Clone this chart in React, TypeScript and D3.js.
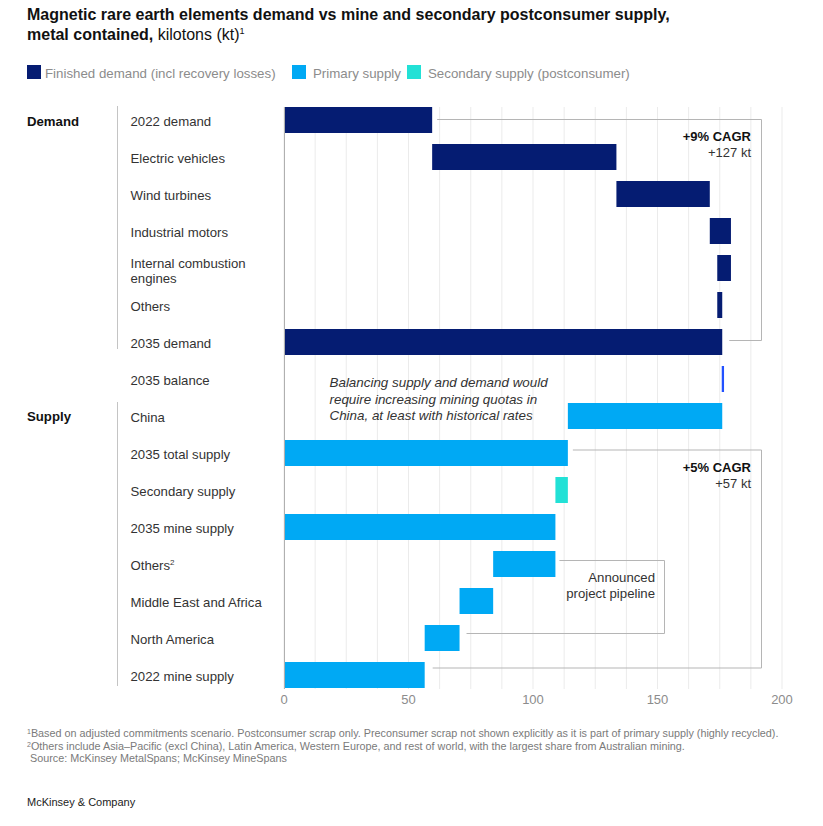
import React from "react";
import * as d3 from "d3";

// Row labels, top to bottom
const rowLabels = [
  "2022 demand",
  "Electric vehicles",
  "Wind turbines",
  "Industrial motors",
  "Internal combustion engines",
  "Others",
  "2035 demand",
  "2035 balance",
  "China",
  "2035 total supply",
  "Secondary supply",
  "2035 mine supply",
  "Others2",
  "Middle East and Africa",
  "North America",
  "2022 mine supply",
];

// Demand waterfall (kt): start, increments, then total
const demandStart = 59.5;
const demandSteps = [
  { label: "Electric vehicles", value: 74 },
  { label: "Wind turbines", value: 37.5 },
  { label: "Industrial motors", value: 8.5 },
  { label: "Internal combustion engines", value: -5.5 },
  { label: "Others", value: 2 },
];

// Supply waterfall (kt), built from the bottom up
const mineSupply2022 = 56.5;
const mineAdditions = [
  { label: "North America", value: 14 },
  { label: "Middle East and Africa", value: 13.5 },
  { label: "Others2", value: 25 },
];
const secondarySupply = 5;
const chinaAddition = 62;

const axisTicks = [0, 50, 100, 150, 200];

const NAVY = "#051c72";
const PRIMARY = "#00a9f4";
const SECONDARY = "#22e1d6";
const BALANCE = "#2251ff";
const FONT = "'Liberation Sans', Arial, sans-serif";

type Bar = { label: string; x0: number; x1: number; color: string };

function buildBars(): Bar[] {
  const bars: Bar[] = [];
  bars.push({ label: "2022 demand", x0: 0, x1: demandStart, color: NAVY });
  let run = demandStart;
  for (const s of demandSteps) {
    const next = run + s.value;
    bars.push({ label: s.label, x0: Math.min(run, next), x1: Math.max(run, next), color: NAVY });
    run = next;
  }
  const demand2035 = run;
  bars.push({ label: "2035 demand", x0: 0, x1: demand2035, color: NAVY });

  bars.push({ label: "2022 mine supply", x0: 0, x1: mineSupply2022, color: PRIMARY });
  let s = mineSupply2022;
  for (const m of mineAdditions) {
    bars.push({ label: m.label, x0: s, x1: s + m.value, color: PRIMARY });
    s += m.value;
  }
  const mine2035 = s;
  bars.push({ label: "2035 mine supply", x0: 0, x1: mine2035, color: PRIMARY });
  bars.push({ label: "Secondary supply", x0: mine2035, x1: mine2035 + secondarySupply, color: SECONDARY });
  const total2035 = mine2035 + secondarySupply;
  bars.push({ label: "2035 total supply", x0: 0, x1: total2035, color: PRIMARY });
  bars.push({ label: "China", x0: total2035, x1: total2035 + chinaAddition, color: PRIMARY });
  return bars;
}

export default function App() {
  const width = 823;
  const height = 826;
  const x = d3.scaleLinear().domain([0, 200]).range([284, 782]);
  const y = d3
    .scaleBand<string>()
    .domain(rowLabels)
    .range([107, 688])
    .paddingInner(11 / 37)
    .paddingOuter(0);
  const bw = y.bandwidth();
  const bars = buildBars();
  const barOf = (l: string) => bars.find((b) => b.label === l)!;
  const top = (l: string) => y(l)!;
  const gridTicks = d3.range(0, 200.01, 12.5);

  const demand2035 = barOf("2035 demand").x1;
  const bracketRight = 761.5;
  const gray = "#b5b5b5";

  const d0 = barOf("2022 demand");
  const d1 = barOf("2035 demand");
  const s0 = barOf("2035 total supply");
  const s1 = barOf("2022 mine supply");
  const p0 = barOf("Others2");
  const p1 = barOf("North America");

  const bracket = (xa: number, ya: number, xr: number, yb: number, xb: number) =>
    `M${xa},${ya}H${xr}V${yb}H${xb}`;

  const labelColor = "#333";
  const labelSize = 13.2;

  return (
    <svg width={width} height={height} style={{ display: "block", position: "absolute", left: 0, top: 0, background: "#fff" }} fontFamily={FONT}>
      {/* Title */}
      <text x={27} y={20} fontSize={16} fontWeight="bold" fill="#111">
        Magnetic rare earth elements demand vs mine and secondary postconsumer supply,
      </text>
      <text x={27} y={40} fontSize={16} fill="#111">
        <tspan fontWeight="bold">metal contained,</tspan>
        <tspan> kilotons (kt)</tspan>
        <tspan fontSize={9} dy={-6}>1</tspan>
      </text>

      {/* Legend */}
      {[
        { c: NAVY, t: "Finished demand (incl recovery losses)", sx: 27, tx: 45 },
        { c: PRIMARY, t: "Primary supply", sx: 292, tx: 313 },
        { c: SECONDARY, t: "Secondary supply (postconsumer)", sx: 407, tx: 428 },
      ].map((d) => (
        <g key={d.t}>
          <rect x={d.sx} y={65} width={14} height={14} fill={d.c} />
          <text x={d.tx} y={78} fontSize={13.3} fill="#8c8c8c">
            {d.t}
          </text>
        </g>
      ))}

      {/* Gridlines */}
      {gridTicks.map((t) => (
        <line key={t} x1={x(t)} x2={x(t)} y1={107} y2={689} stroke="#ebebeb" strokeWidth={1} />
      ))}

      {/* Group labels and separators */}
      <text x={27} y={126} fontSize={13.2} fontWeight="bold" fill="#111">Demand</text>
      <text x={27} y={420.5} fontSize={13.2} fontWeight="bold" fill="#111">Supply</text>
      <line x1={117.5} x2={117.5} y1={106} y2={349} stroke="#c4c4c4" />
      <line x1={117.5} x2={117.5} y1={402} y2={686} stroke="#c4c4c4" />

      {/* Row labels */}
      {rowLabels.map((l) => {
        const cy = top(l) + bw / 2;
        if (l === "Internal combustion engines") {
          return (
            <text key={l} x={130.5} fontSize={labelSize} fill={labelColor}>
              <tspan x={130.5} y={cy - 0.5}>Internal combustion</tspan>
              <tspan x={130.5} y={cy + 14.5}>engines</tspan>
            </text>
          );
        }
        if (l === "Others2") {
          return (
            <text key={l} x={130.5} y={cy + 5.5} fontSize={labelSize} fill={labelColor}>
              Others<tspan fontSize={8} dy={-5}>2</tspan>
            </text>
          );
        }
        return (
          <text key={l} x={130.5} y={cy + 5.5} fontSize={labelSize} fill={labelColor}>
            {l}
          </text>
        );
      })}

      {/* Brackets */}
      <path d={bracket(x(d0.x1) + 5, top("2022 demand") + 12.5, bracketRight, top("2035 demand") + 11.5, x(d1.x1) + 7)} fill="none" stroke={gray} />
      <path d={bracket(x(s0.x1) + 5, top("2035 total supply") + 10, bracketRight, top("2022 mine supply") + 6, x(s1.x1) + 8)} fill="none" stroke={gray} />
      <path d={bracket(x(p0.x1) + 4, top("Others2") + 9.5, 664.5, top("North America") + 8.5, x(p1.x1) + 7)} fill="none" stroke={gray} />

      {/* Bars */}
      {bars.map((b) => (
        <rect key={b.label} x={x(b.x0)} y={top(b.label)} width={x(b.x1) - x(b.x0)} height={bw} fill={b.color} />
      ))}

      {/* Balance marker */}
      <rect x={x(demand2035) - 0.5} y={top("2035 balance")} width={2.3} height={bw} fill={BALANCE} />

      {/* Baseline */}
      <line x1={284.5} x2={284.5} y1={107} y2={689} stroke="#b0b0b0" />

      {/* Axis tick labels */}
      {axisTicks.map((t) => (
        <text key={t} x={x(t)} y={704} fontSize={13} fill="#8c8c8c" textAnchor="middle">
          {t}
        </text>
      ))}

      {/* CAGR annotations */}
      <text x={751} y={141} fontSize={13} textAnchor="end" fontWeight="bold" fill="#111">+9% CAGR</text>
      <text x={751} y={157} fontSize={13} textAnchor="end" fill="#333">+127 kt</text>
      <text x={751} y={472} fontSize={13} textAnchor="end" fontWeight="bold" fill="#111">+5% CAGR</text>
      <text x={751} y={488} fontSize={13} textAnchor="end" fill="#333">+57 kt</text>

      <text x={655} y={582} fontSize={13.2} textAnchor="end" fill="#333">Announced</text>
      <text x={655} y={598} fontSize={13.2} textAnchor="end" fill="#333">project pipeline</text>

      <text fontSize={13.4} fontStyle="italic" fill="#333">
        <tspan x={329.5} y={387}>Balancing supply and demand would</tspan>
        <tspan x={329.5} y={403.5}>require increasing mining quotas in</tspan>
        <tspan x={329.5} y={420}>China, at least with historical rates</tspan>
      </text>

      {/* Footnotes */}
      <g fontSize={10.8} fill="#7a7a7a">
        <text x={27} y={737}>
          <tspan fontSize={7} dy={-3}>1</tspan>
          <tspan dy={3}>Based on adjusted commitments scenario. Postconsumer scrap only. Preconsumer scrap not shown explicitly as it is part of primary supply (highly recycled).</tspan>
        </text>
        <text x={27} y={750}>
          <tspan fontSize={7} dy={-3}>2</tspan>
          <tspan dy={3}>Others include Asia–Pacific (excl China), Latin America, Western Europe, and rest of world, with the largest share from Australian mining.</tspan>
        </text>
        <text x={30} y={762}>Source: McKinsey MetalSpans; McKinsey MineSpans</text>
      </g>
      <text x={27} y={806} fontSize={11} fill="#222">McKinsey &amp; Company</text>
    </svg>
  );
}
